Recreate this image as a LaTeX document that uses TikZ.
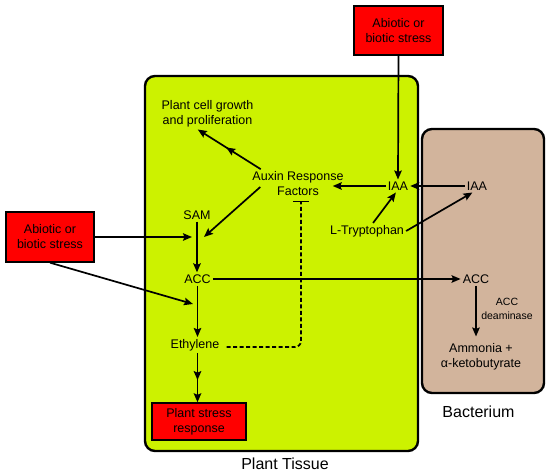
\documentclass[tikz,border=0pt]{standalone}
\usepackage{fontspec}
\setmainfont{Liberation Sans}
\usetikzlibrary{arrows.meta,decorations.markings,calc}
\definecolor{plantg}{RGB}{204,242,0}
\definecolor{bact}{RGB}{210,180,156}
\begin{document}
\begin{tikzpicture}[x=1pt,y=-1pt,
  txt/.style={font=\fontsize{12.5}{15}\selectfont, align=center, inner sep=2pt},
  small/.style={font=\fontsize{10.5}{14}\selectfont, align=center, inner sep=1pt},
  stress/.style={txt, draw=black, line width=1.4pt, fill=red, minimum width=89pt, minimum height=49pt},
  arr/.style={line width=1.7pt, -{Stealth[length=9pt,width=7.5pt,inset=1.5pt]}},
  midarr/.style={arr, postaction={decorate}, decoration={markings, mark=at position 0.55 with {\arrow{Stealth[length=9pt,width=7.5pt,inset=1.5pt]}}}},
  region/.style={draw=black, line width=2.4pt, rounded corners=10pt},
  biglab/.style={font=\fontsize{16}{19}\selectfont}
]
\useasboundingbox (0,0) rectangle (550,476);
% regions
\draw[region, fill=plantg] (145,76) rectangle (418,451);
\draw[region, fill=bact] (422,129) rectangle (544,393);
\node[biglab] (ptlab) at (285,464) {Plant Tissue};
\node[biglab] (bactlab) at (478.5,412) {Bacterium};
% nodes
\node[txt] (pcg) at (207.5,114) {Plant cell growth\\and proliferation};
\node[txt] (auxin) at (298,183.5) {Auxin Response\\Factors};
\node[txt] (iaa1) at (398,186) {IAA};
\node[txt] (iaa2) at (477,186) {IAA};
\node[txt] (ltrp) at (367,231) {L-Tryptophan};
\node[txt] (sam) at (197,215) {SAM};
\node[txt] (acc1) at (197.5,279) {ACC};
\node[txt] (eth) at (195,345) {Ethylene};
\node[txt] (acc2) at (476,279) {ACC};
\node[small] (dea) at (507,309) {ACC\\deaminase};
\node[txt] (amm) at (481,357) {Ammonia +\\α-ketobutyrate};
\node[stress] (s1) at (398.5,30.5) {Abiotic or\\biotic stress};
\node[stress, minimum width=88pt, minimum height=50pt] (s2) at (50,237) {Abiotic or\\biotic stress};
\node[stress, minimum width=94pt, minimum height=37pt] (psr) at (199,421.5) {Plant stress\\response};
% connectors
\draw[midarr] (auxin.159) -- (pcg.238);
\draw[arr] (iaa2.west) -- (iaa1.east);
\draw[arr, shorten >=-13pt] (iaa1.west) -- (auxin.east |- iaa1.west);
\draw[arr] (s1.south) -- (iaa1.north);
\draw[arr] (ltrp.53) -- (iaa1.252);
\draw[arr] (ltrp.east) -- (iaa2.235);
\coordinate (j1) at (204,237);
\draw[arr] ([xshift=10pt,yshift=-3.5pt]auxin.west) -- (j1);
\draw[arr] (sam.south) -- (sam.south |- acc1.north);
\draw[arr, shorten >=5pt] (s2.east) -- (s2.east -| sam.south);
\coordinate (j3) at (193,304);
\draw[arr] (s2.south) -- (j3);
\draw[arr] (acc1.south) -- (acc1.south |- eth.north);
\draw[midarr] (acc1.south |- eth.south) -- (acc1.south |- psr.north);
\draw[arr] (acc1.east) -- (acc2.west);
\draw[arr, shorten >=5pt] (acc2.south) -- (acc2.south |- amm.north);
\draw[line width=1.7pt, dash pattern=on 4pt off 2.5pt, rounded corners=6pt, -{Bar[width=16pt]}] ([xshift=5pt,yshift=-2pt]eth.east) -| ([xshift=3pt,yshift=-3pt]auxin.south);
\end{tikzpicture}
\end{document}
